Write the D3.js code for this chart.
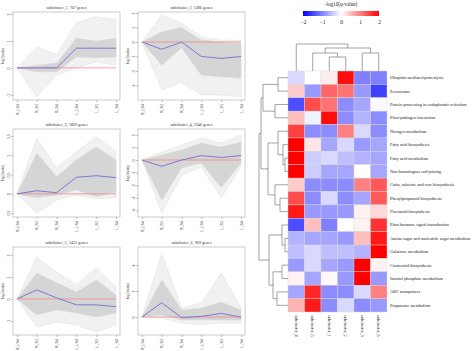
<!DOCTYPE html>
<html>
<head>
<meta charset="utf-8">
<script src="https://cdn.jsdelivr.net/npm/d3@7"></script>
<style>
  body { margin: 0; background: #fff; }
  svg { display: block; font-family: "Liberation Serif", "DejaVu Serif", serif; }
</style>
</head>
<body>
<div id="wrapper"></div>
<script>
'use strict';

// ---- data ----
const timePoints = ['R_LS4', 'R_S1', 'R_S4', 'L_LS4', 'L_S1', 'L_S4'];
const clusterTitles = [
  'subcluster_1, 767 genes', 'subcluster_2, 1286 genes',
  'subcluster_3, 1869 genes', 'subcluster_4, 2346 genes',
  'subcluster_5, 1452 genes', 'subcluster_6, 969 genes',
];
// mean profile (blue line)
const meanProfiles = [
  [0, 0, 0, 0.73, 0.73, 0.73],
  [0, -0.5, 0, -1.0, -1.13, -1.0],
  [0, 0.08, 0.03, 0.43, 0.47, 0.42],
  [0, -0.5, 0, 0.35, 0.2, 0.35],
  [0, 0.41, 0.05, -0.27, -0.27, -0.35],
  [0, 1.1, -0.05, 0.05, 0.28, 0],
];
// dense grey core of the gene profiles
const coreUpper = [
  [0, 0.1, 0.18, 1.1, 1.0, 1.1],
  [0, 0.7, 1.0, 0.14, 0, -0.1],
  [0, 1.06, 0.44, 0.88, 1.22, 0.88],
  [0, 0.4, 0.8, 1.35, 1.03, 1.43],
  [0, 1.18, 0.73, 0.32, 0.86, 0.18],
  [0, 2.85, 0.54, 0.7, 1.15, 0.54],
];
const coreLower = [
  [0, -0.15, -0.15, 0.4, 0.37, 0.4],
  [0, -1.6, -0.4, -2.3, -2.4, -2.5],
  [0, -0.1, -0.03, 0.1, -0.08, 0.05],
  [0, -3.2, -0.63, -0.24, -2.2, -0.24],
  [0, -0.73, -0.5, -0.64, -0.82, -0.64],
  [0, 0.15, -0.23, -0.23, -0.23, -0.23],
];
// light outer spread of the gene profiles
const outerUpper = [
  [0, 0.78, 0.48, 1.67, 1.9, 1.78],
  [0, 1.86, 1.3, 0.35, 0.14, 0.1],
  [0, 1.45, 0.67, 1.09, 1.48, 1.09],
  [0, 0.63, 1.2, 1.75, 1.35, 2.0],
  [0, 1.9, 1.22, 0.64, 1.4, 0.55],
  [0, 4.9, 0.7, 1.08, 3.4, 0.7],
];
const outerLower = [
  [0, -1.07, -0.26, 0, 0.22, 0.1],
  [0, -3.3, -2.8, -3.65, -3.65, -3.8],
  [0, -0.5, -0.16, -0.03, -0.13, -0.1],
  [0, -4.2, -1.2, -0.55, -3.0, -0.55],
  [0, -1.27, -1.05, -1.18, -1.5, -1.18],
  [0, -0.08, -0.46, -0.6, -0.46, -0.46],
];
const yDomains = [
  [-1.19, 2.07], [-4.0, 2.07], [-0.6, 1.68],
  [-4.52, 2.46], [-1.64, 2.36], [-1.38, 5.38],
];
const yTicks = [
  [-1, 0, 1, 2], [-3, -2, -1, 0, 1, 2], [-0.5, 0, 0.5, 1, 1.5],
  [-4, -3, -2, -1, 0, 1, 2], [-1, 0, 1, 2], [0, 2, 4],
];

const heatColumns = ['subcluster_4', 'subcluster_5', 'subcluster_1', 'subcluster_2', 'subcluster_3', 'subcluster_6'];
const pathways = [
  'Ubiquitin mediated proteolysis', 'Peroxisome',
  'Protein processing in endoplasmic reticulum', 'Plant-pathogen interaction',
  'Nitrogen metabolism', 'Fatty acid biosynthesis', 'Fatty acid metabolism',
  'Non-homologous end-joining', 'Cutin, suberine and wax biosynthesis',
  'Phenylpropanoid biosynthesis', 'Flavonoid biosynthesis',
  'Plant hormone signal transduction', 'Amino sugar and nucleotide sugar metabolism',
  'Galactose metabolism', 'Carotenoid biosynthesis', 'Inositol phosphate metabolism',
  'ABC transporters', 'Propanoate metabolism',
];
const heatValues = [
  [-0.3, 0.0, 0.15, 1.9, -1.0, -1.0],
  [0.4, -0.8, 1.2, 1.1, -0.8, -1.5],
  [-1.4, 1.4, 1.1, -0.9, -0.7, -0.05],
  [0.5, -0.1, 1.9, -0.9, -0.6, -0.9],
  [1.5, -0.9, -0.9, 1.0, -0.3, -0.9],
  [2.0, 0.2, -0.7, -0.3, -0.8, -0.7],
  [2.0, -0.4, -0.3, -0.5, -0.6, -0.7],
  [2.0, -0.4, -0.7, -0.7, 0.0, -0.7],
  [0.4, -0.9, -0.9, -0.9, 1.0, 1.3],
  [1.4, -0.9, -0.3, -0.9, -0.7, 1.3],
  [1.8, -0.8, -0.8, -0.8, 0.1, 0.3],
  [-1.4, 0.5, -1.0, 0.0, 0.1, 1.6],
  [-0.6, -0.7, -0.7, -0.8, 0.5, 1.8],
  [-0.5, -0.3, -0.5, -0.5, -0.6, 2.0],
  [-0.8, -0.3, -0.7, -0.8, 2.0, 0.1],
  [0.1, -0.7, 0.05, -0.8, 2.0, -0.8],
  [-0.7, 1.7, -0.9, -0.9, -0.3, 1.0],
  [0.6, 1.8, -0.9, -0.3, -0.9, -0.8],
];
// dendrograms: [mergeDistance, left, right], leaves are indices
const colTree = [27, 0, [23, [18, 1, [14, 2, 3]], [18, 4, 5]]];
const rowTree = [29,
  [27,
    [25, [10, 0, 1], [13, 2, 3]],
    [20, [10, 4, [5, 5, [3, 6, 7]]], [13, 8, [8, 9, 10]]]],
  [19, [6, 11, [3, 12, 13]], [15, [6, 14, 15], [11, 16, 17]]]];
const legendTicks = [-2, -1, 0, 1, 2];

// ---- layout ----
const width = 474, height = 351;
const panel = { width: 107, height: 88, left: [13, 138], top: [12, 129, 247] };
const heat = { left: 288, top: 71, width: 99, height: 241 };

const svg = d3.select('#wrapper').append('svg')
  .attr('width', width).attr('height', height);

// ---- cluster profile panels ----
clusterTitles.forEach((title, i) => {
  const g = svg.append('g')
    .attr('transform', `translate(${panel.left[i % 2]},${panel.top[Math.floor(i / 2)]})`);
  const x = d3.scalePoint().domain(timePoints).range([0, panel.width]).padding(0.2);
  const y = d3.scaleLinear().domain(yDomains[i]).range([panel.height, 0]);

  const band = (hi, lo) => d3.area()
    .x((d, j) => x(timePoints[j]))
    .y0((d, j) => y(lo[j]))
    .y1(d => y(d))(hi);
  const line = d3.line().x((d, j) => x(timePoints[j])).y(d => y(d));

  g.append('path').attr('d', band(outerUpper[i], outerLower[i]))
    .attr('fill', '#f1f1f1').attr('stroke', '#dedede').attr('stroke-width', 0.5);
  g.append('path').attr('d', band(coreUpper[i], coreLower[i]))
    .attr('fill', '#d5d5d5').attr('stroke', '#dadada').attr('stroke-width', 0.5);
  g.append('path').attr('d', line(timePoints.map(() => 0)))
    .attr('fill', 'none').attr('stroke', '#f08a8a').attr('stroke-width', 0.8);
  g.append('path').attr('d', line(meanProfiles[i]))
    .attr('fill', 'none').attr('stroke', '#7a7ad4').attr('stroke-width', 1);

  g.append('rect').attr('width', panel.width).attr('height', panel.height)
    .attr('fill', 'none').attr('stroke', '#999').attr('stroke-width', 0.5);

  const yAxis = g.append('g')
    .call(d3.axisLeft(y).tickValues(yTicks[i]).tickSize(2).tickFormat(d => String(d)));
  yAxis.select('.domain').remove();
  yAxis.selectAll('line').attr('stroke', '#666').attr('stroke-width', 0.4);
  yAxis.selectAll('text')
    .attr('x', null).attr('dy', null)
    .attr('transform', 'translate(-3.5,0) rotate(-90)')
    .attr('text-anchor', 'middle')
    .attr('fill', '#333').style('font-size', '3.6px');

  const xAxis = g.append('g')
    .attr('transform', `translate(0,${panel.height})`)
    .call(d3.axisBottom(x).tickSize(2));
  xAxis.select('.domain').remove();
  xAxis.selectAll('line').attr('stroke', '#666').attr('stroke-width', 0.4);
  xAxis.selectAll('text')
    .attr('y', null).attr('dy', '0.32em')
    .attr('transform', 'translate(0,4) rotate(-90)')
    .attr('text-anchor', 'end')
    .attr('fill', '#333').style('font-size', '3.6px');

  g.append('text').attr('x', panel.width / 2).attr('y', -3)
    .attr('text-anchor', 'middle').attr('fill', '#333')
    .style('font-size', '4.2px').text(title);
  g.append('text')
    .attr('transform', `translate(-9.5,${panel.height / 2}) rotate(-90)`)
    .attr('text-anchor', 'middle').attr('fill', '#333')
    .style('font-size', '3.6px').text('log2(ratio)');
});

// ---- heatmap ----
const xh = d3.scaleBand().domain(d3.range(heatColumns.length)).range([heat.left, heat.left + heat.width]);
const yh = d3.scaleBand().domain(d3.range(pathways.length)).range([heat.top, heat.top + heat.height]);
const color = d3.scaleLinear().domain([-2, 0, 2]).range(['#0000ff', '#ffffff', '#ff0000']).clamp(true);

const cells = svg.append('g');
heatValues.forEach((row, r) => {
  cells.selectAll(null).data(row).join('rect')
    .attr('x', (d, c) => xh(c)).attr('y', yh(r))
    .attr('width', xh.bandwidth()).attr('height', yh.bandwidth())
    .attr('fill', d => color(d))
    .attr('stroke', '#d4d4d4').attr('stroke-width', 0.4);
});

svg.append('g').selectAll('text').data(pathways).join('text')
  .attr('x', heat.left + heat.width + 3)
  .attr('y', (d, i) => yh(i) + yh.bandwidth() / 2)
  .attr('dy', '0.35em').attr('fill', '#222')
  .style('font-size', '4.3px').text(d => d);

svg.append('g').selectAll('text').data(heatColumns).join('text')
  .attr('transform', (d, i) => `translate(${xh(i) + xh.bandwidth() / 2},${heat.top + heat.height + 3}) rotate(90)`)
  .attr('dy', '0.35em').attr('fill', '#222')
  .style('font-size', '4.3px').text(d => d);

// ---- dendrograms ----
function walkTree(node, posOf, draw) {
  if (typeof node === 'number') return { p: posOf(node), h: 0 };
  const [h, left, right] = node;
  const a = walkTree(left, posOf, draw);
  const b = walkTree(right, posOf, draw);
  draw(a, b, h);
  return { p: (a.p + b.p) / 2, h };
}

const dendro = svg.append('g').attr('fill', 'none').attr('stroke', '#666').attr('stroke-width', 0.6);

const colH = d3.scaleLinear().domain([0, 27]).range([heat.top, 44]);
walkTree(colTree, c => xh(c) + xh.bandwidth() / 2, (a, b, h) => {
  dendro.append('path')
    .attr('d', `M${a.p},${colH(a.h)}V${colH(h)}H${b.p}V${colH(b.h)}`);
});

const rowH = d3.scaleLinear().domain([0, 29]).range([heat.left, 259]);
walkTree(rowTree, r => yh(r) + yh.bandwidth() / 2, (a, b, h) => {
  dendro.append('path')
    .attr('d', `M${rowH(a.h)},${a.p}H${rowH(h)}V${b.p}H${rowH(b.h)}`);
});

// ---- colour legend ----
const lx = d3.scaleLinear().domain([-2, 2]).range([303, 379]);
const grad = svg.append('defs').append('linearGradient').attr('id', 'heat-grad');
grad.selectAll('stop').data([-2, -1, 0, 1, 2]).join('stop')
  .attr('offset', d => `${(d + 2) * 25}%`)
  .attr('stop-color', d => color(d));

svg.append('rect').attr('x', lx(-2)).attr('y', 11)
  .attr('width', lx(2) - lx(-2)).attr('height', 5)
  .attr('fill', 'url(#heat-grad)');

const legendAxis = svg.append('g').attr('transform', 'translate(0,17)')
  .call(d3.axisBottom(lx).tickValues(legendTicks).tickSize(0).tickPadding(3)
    .tickFormat(d => d < 0 ? '\u2212' + Math.abs(d) : String(d)));
legendAxis.select('.domain').remove();
legendAxis.selectAll('text').attr('fill', '#222').style('font-size', '5.5px')
  .style('font-family', '"Liberation Serif", serif');

svg.append('text').attr('x', lx(0)).attr('y', 6)
  .attr('text-anchor', 'middle').attr('fill', '#222')
  .style('font-size', '5.2px').text('-log10(q-value)');
</script>
</body>
</html>
